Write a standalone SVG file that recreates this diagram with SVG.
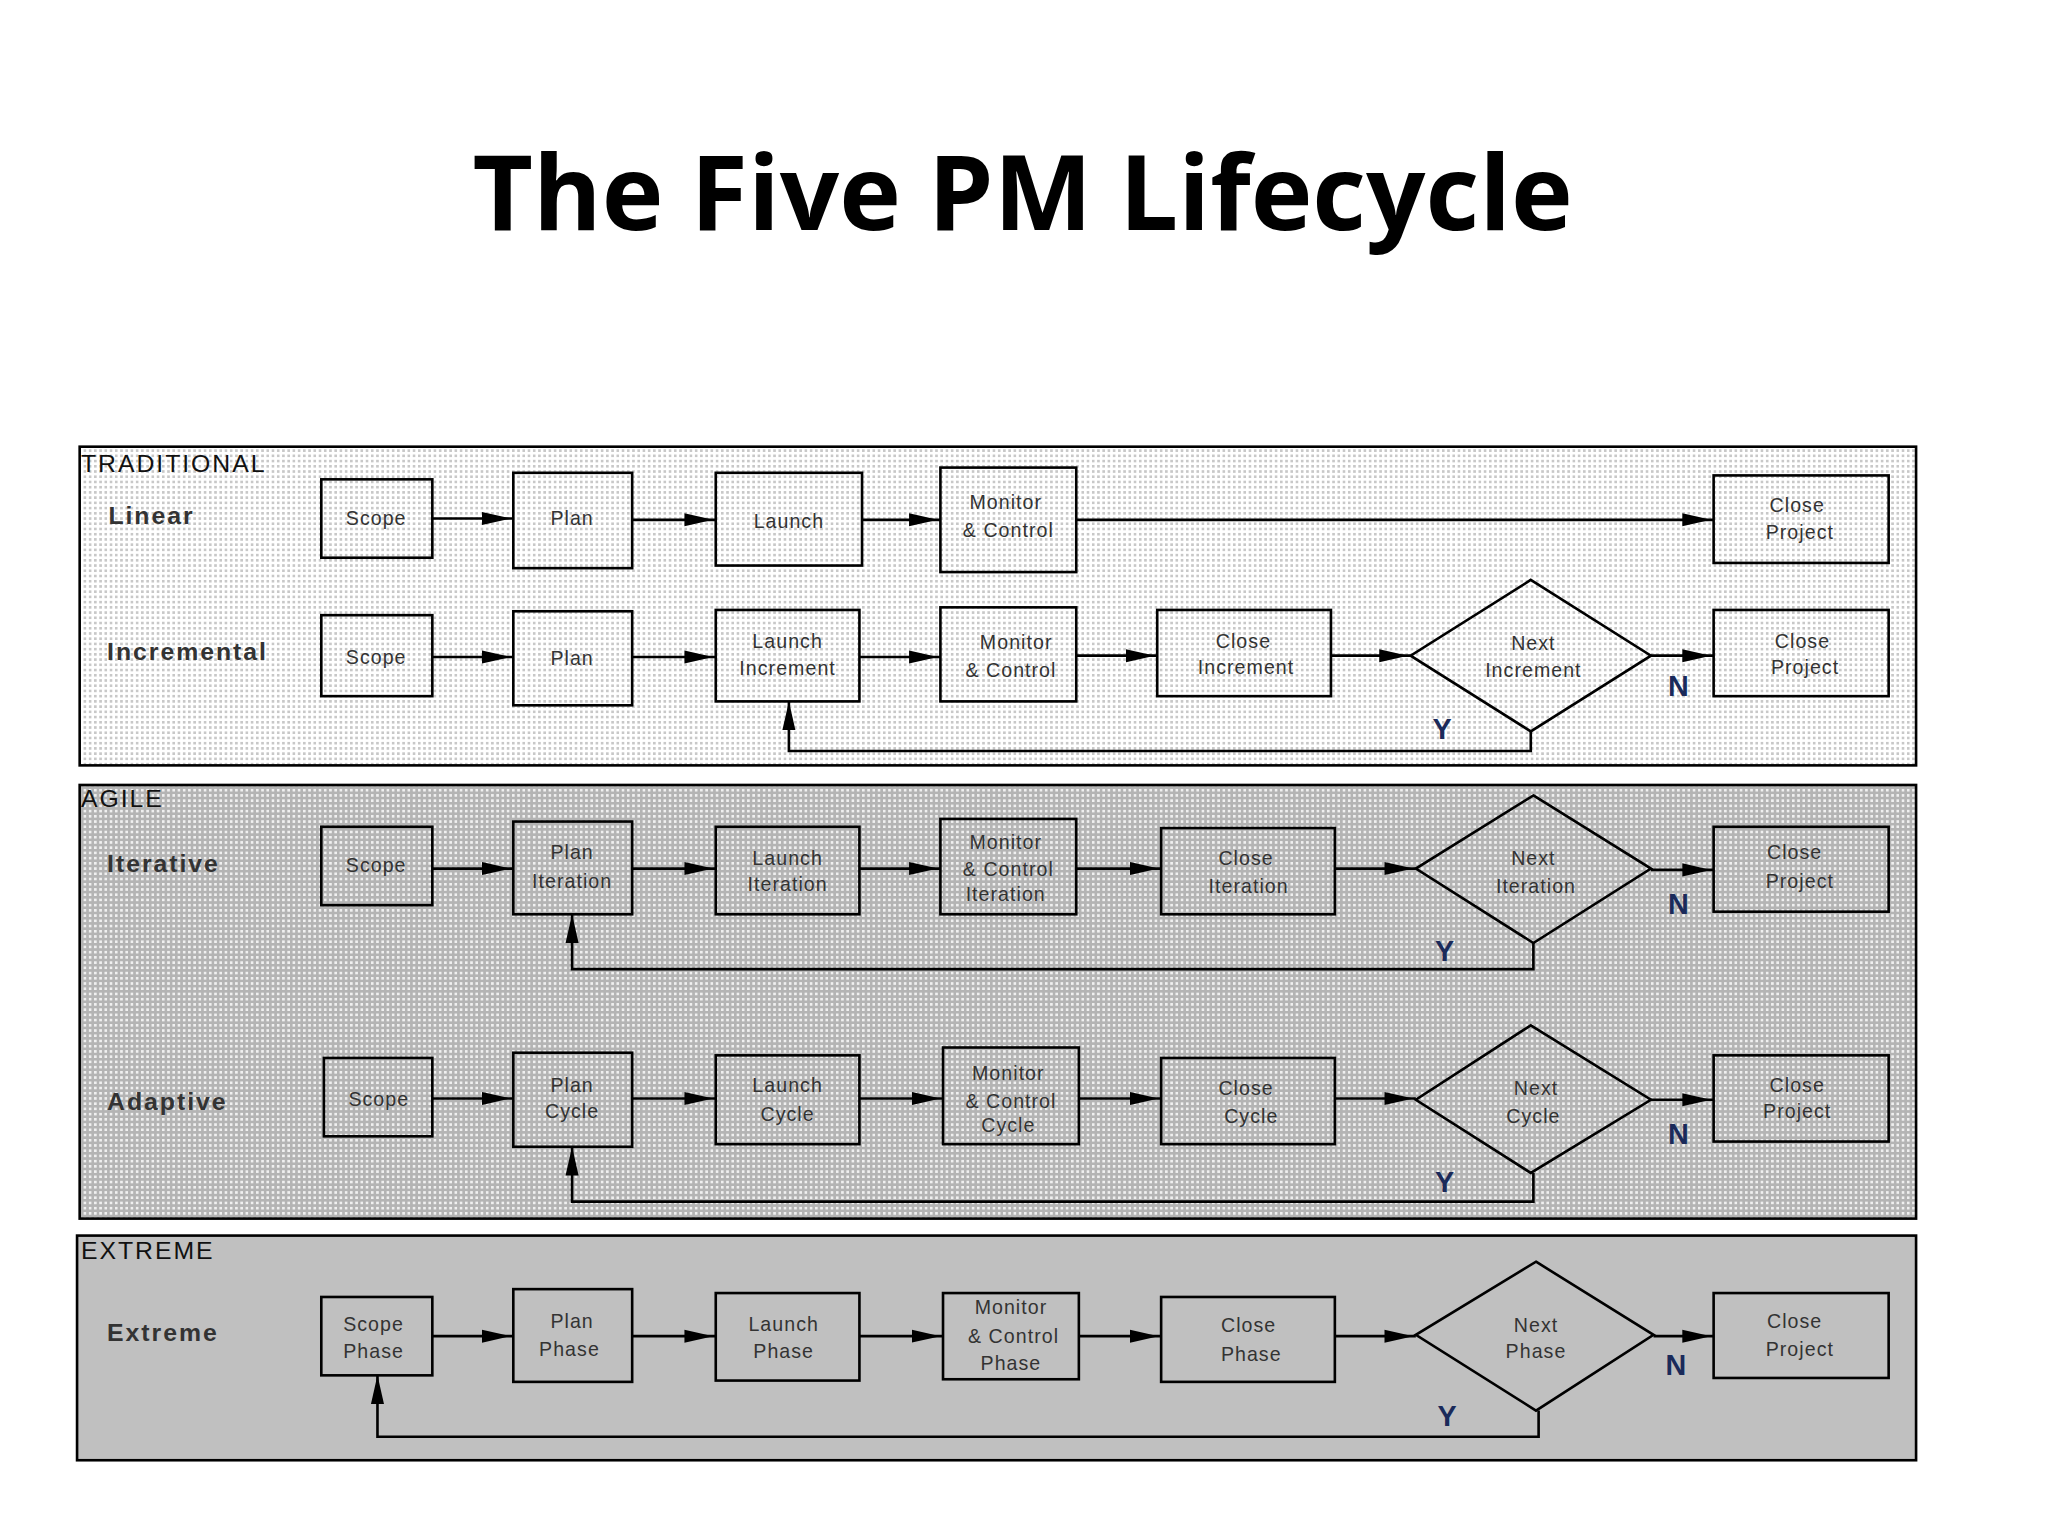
<svg xmlns="http://www.w3.org/2000/svg" width="2048" height="1536" viewBox="0 0 2048 1536">
<defs>
<pattern id="dotT" width="4" height="4" patternUnits="userSpaceOnUse"><rect width="4" height="4" fill="#ffffff"/><rect width="2" height="2" fill="#c8c8c8"/></pattern>
<pattern id="dotA" width="4" height="4" patternUnits="userSpaceOnUse"><rect width="4" height="4" fill="#b4b4b4"/><rect width="2" height="2" fill="#f0f0f0"/></pattern>
<marker id="ah" viewBox="0 0 26 12" refX="24" refY="6" markerWidth="26" markerHeight="12" markerUnits="userSpaceOnUse" orient="auto"><path d="M0,1 L22,6 L0,11 Z" fill="#000"/></marker>
<marker id="au" viewBox="0 0 12 22" refX="6" refY="0" markerWidth="12" markerHeight="22" markerUnits="userSpaceOnUse" orient="0"><path d="M1,22 L6,0 L11,22 Z" fill="#000"/></marker>
<style>
.box{fill:none;stroke:#000;stroke-width:2}
.t{font-family:"Liberation Sans",Arial,sans-serif;font-size:15px;fill:#333;text-anchor:middle;letter-spacing:0.8px}
.row{font-family:"Liberation Sans",Arial,sans-serif;font-size:19px;font-weight:bold;fill:#333;letter-spacing:1.5px}
.sec{font-family:"Liberation Sans",Arial,sans-serif;font-size:19px;fill:#111;letter-spacing:1.5px}
.yn{font-family:"Liberation Sans",Arial,sans-serif;font-size:22px;font-weight:bold;fill:#1a2a5a;text-anchor:middle}
.c{fill:none;stroke:#000;stroke-width:2}
</style>
</defs>
<rect width="2048" height="1536" fill="#fff"/>
<g transform="scale(1.30612)">
<text x="783" y="176" font-family="'Open Sans','Liberation Sans',sans-serif" font-weight="bold" font-size="80" text-anchor="middle" fill="#000">The Five PM Lifecycle</text>
<g id="panels">
<rect x="61" y="342" width="1406" height="244" fill="url(#dotT)" stroke="#000" stroke-width="2"/>
<rect x="61" y="601" width="1406" height="332" fill="url(#dotA)" stroke="#000" stroke-width="2"/>
<rect x="59" y="946" width="1408" height="172" fill="#c0c0c0" stroke="#000" stroke-width="2"/>
<text class="sec" x="62" y="361">TRADITIONAL</text>
<text class="sec" x="62" y="618">AGILE</text>
<text class="sec" x="62" y="964">EXTREME</text>
<text class="row" x="83" y="401" fill="#5a2020">Linear</text>
<text class="row" x="82" y="505">Incremental</text>
<text class="row" x="82" y="668">Iterative</text>
<text class="row" x="82" y="850">Adaptive</text>
<text class="row" x="82" y="1027">Extreme</text>
</g>
<g id="nodes">
<g id="l1"><rect class="box" x="246" y="367" width="85" height="60"/><text class="t" x="288" y="402">Scope</text></g>
<g id="l2"><rect class="box" x="393" y="362" width="91" height="73"/><text class="t" x="438" y="402">Plan</text></g>
<g id="l3"><rect class="box" x="548" y="362" width="112" height="71"/><text class="t" x="604" y="404">Launch</text></g>
<g id="l4"><rect class="box" x="720" y="358" width="104" height="80"/><text class="t" x="770" y="390">Monitor</text><text class="t" x="772" y="411">&amp; Control</text></g>
<g id="l5"><rect class="box" x="1312" y="364" width="134" height="67"/><text class="t" x="1376" y="392">Close</text><text class="t" x="1378" y="413">Project</text></g>
<g id="i1"><rect class="box" x="246" y="471" width="85" height="62"/><text class="t" x="288" y="508">Scope</text></g>
<g id="i2"><rect class="box" x="393" y="468" width="91" height="72"/><text class="t" x="438" y="509">Plan</text></g>
<g id="i3"><rect class="box" x="548" y="467" width="110" height="70"/><text class="t" x="603" y="496">Launch</text><text class="t" x="603" y="517">Increment</text></g>
<g id="i4"><rect class="box" x="720" y="465" width="104" height="72"/><text class="t" x="778" y="497">Monitor</text><text class="t" x="774" y="518">&amp; Control</text></g>
<g id="i5"><rect class="box" x="886" y="467" width="133" height="66"/><text class="t" x="952" y="496">Close</text><text class="t" x="954" y="516">Increment</text></g>
<g id="i6"><polygon class="box" points="1172,444 1264,502 1172,560 1080,502"/><text class="t" x="1174" y="498">Next</text><text class="t" x="1174" y="518">Increment</text></g>
<g id="i7"><rect class="box" x="1312" y="467" width="134" height="66"/><text class="t" x="1380" y="496">Close</text><text class="t" x="1382" y="516">Project</text></g>
<g id="r1"><rect class="box" x="246" y="633" width="85" height="60"/><text class="t" x="288" y="668">Scope</text></g>
<g id="r2"><rect class="box" x="393" y="629" width="91" height="71"/><text class="t" x="438" y="658">Plan</text><text class="t" x="438" y="680">Iteration</text></g>
<g id="r3"><rect class="box" x="548" y="633" width="110" height="67"/><text class="t" x="603" y="662">Launch</text><text class="t" x="603" y="682">Iteration</text></g>
<g id="r4"><rect class="box" x="720" y="627" width="104" height="73"/><text class="t" x="770" y="650">Monitor</text><text class="t" x="772" y="671">&amp; Control</text><text class="t" x="770" y="690">Iteration</text></g>
<g id="r5"><rect class="box" x="889" y="634" width="133" height="66"/><text class="t" x="954" y="662">Close</text><text class="t" x="956" y="684">Iteration</text></g>
<g id="r6"><polygon class="box" points="1174,609 1264,665 1174,722 1084,665"/><text class="t" x="1174" y="662">Next</text><text class="t" x="1176" y="684">Iteration</text></g>
<g id="r7"><rect class="box" x="1312" y="633" width="134" height="65"/><text class="t" x="1374" y="658">Close</text><text class="t" x="1378" y="680">Project</text></g>
<g id="a1"><rect class="box" x="248" y="810" width="83" height="60"/><text class="t" x="290" y="847">Scope</text></g>
<g id="a2"><rect class="box" x="393" y="806" width="91" height="72"/><text class="t" x="438" y="836">Plan</text><text class="t" x="438" y="856">Cycle</text></g>
<g id="a3"><rect class="box" x="548" y="808" width="110" height="68"/><text class="t" x="603" y="836">Launch</text><text class="t" x="603" y="858">Cycle</text></g>
<g id="a4"><rect class="box" x="722" y="802" width="104" height="74"/><text class="t" x="772" y="827">Monitor</text><text class="t" x="774" y="848">&amp; Control</text><text class="t" x="772" y="867">Cycle</text></g>
<g id="a5"><rect class="box" x="889" y="810" width="133" height="66"/><text class="t" x="954" y="838">Close</text><text class="t" x="958" y="860">Cycle</text></g>
<g id="a6"><polygon class="box" points="1172,785 1264,842 1172,898 1084,842"/><text class="t" x="1176" y="838">Next</text><text class="t" x="1174" y="860">Cycle</text></g>
<g id="a7"><rect class="box" x="1312" y="808" width="134" height="66"/><text class="t" x="1376" y="836">Close</text><text class="t" x="1376" y="856">Project</text></g>
<g id="e1"><rect class="box" x="246" y="993" width="85" height="60"/><text class="t" x="286" y="1019">Scope</text><text class="t" x="286" y="1040">Phase</text></g>
<g id="e2"><rect class="box" x="393" y="987" width="91" height="71"/><text class="t" x="438" y="1017">Plan</text><text class="t" x="436" y="1038">Phase</text></g>
<g id="e3"><rect class="box" x="548" y="990" width="110" height="67"/><text class="t" x="600" y="1019">Launch</text><text class="t" x="600" y="1040">Phase</text></g>
<g id="e4"><rect class="box" x="722" y="990" width="104" height="66"/><text class="t" x="774" y="1006">Monitor</text><text class="t" x="776" y="1028">&amp; Control</text><text class="t" x="774" y="1049">Phase</text></g>
<g id="e5"><rect class="box" x="889" y="993" width="133" height="65"/><text class="t" x="956" y="1020">Close</text><text class="t" x="958" y="1042">Phase</text></g>
<g id="e6"><polygon class="box" points="1176,966 1266,1022 1176,1080 1084,1022"/><text class="t" x="1176" y="1020">Next</text><text class="t" x="1176" y="1040">Phase</text></g>
<g id="e7"><rect class="box" x="1312" y="990" width="134" height="65"/><text class="t" x="1374" y="1017">Close</text><text class="t" x="1378" y="1038">Project</text></g>
</g>
<g id="connectors">
<line class="c" x1="331" y1="397" x2="393" y2="397" marker-end="url(#ah)"/>
<line class="c" x1="484" y1="398" x2="548" y2="398" marker-end="url(#ah)"/>
<line class="c" x1="660" y1="398" x2="720" y2="398" marker-end="url(#ah)"/>
<line class="c" x1="824" y1="398" x2="1312" y2="398" marker-end="url(#ah)"/>
<line class="c" x1="331" y1="503" x2="393" y2="503" marker-end="url(#ah)"/>
<line class="c" x1="484" y1="503" x2="548" y2="503" marker-end="url(#ah)"/>
<line class="c" x1="658" y1="503" x2="720" y2="503" marker-end="url(#ah)"/>
<line class="c" x1="824" y1="502" x2="886" y2="502" marker-end="url(#ah)"/>
<line class="c" x1="1019" y1="502" x2="1080" y2="502" marker-end="url(#ah)"/>
<line class="c" x1="1264" y1="502" x2="1312" y2="502" marker-end="url(#ah)"/>
<polyline class="c" points="1172,560 1172,575 604,575 604,537" marker-end="url(#au)"/>
<line class="c" x1="331" y1="665" x2="393" y2="665" marker-end="url(#ah)"/>
<line class="c" x1="484" y1="665" x2="548" y2="665" marker-end="url(#ah)"/>
<line class="c" x1="658" y1="665" x2="720" y2="665" marker-end="url(#ah)"/>
<line class="c" x1="824" y1="665" x2="889" y2="665" marker-end="url(#ah)"/>
<line class="c" x1="1022" y1="665" x2="1084" y2="665" marker-end="url(#ah)"/>
<line class="c" x1="1264" y1="666" x2="1312" y2="666" marker-end="url(#ah)"/>
<polyline class="c" points="1174,722 1174,742 438,742 438,700" marker-end="url(#au)"/>
<line class="c" x1="331" y1="841" x2="393" y2="841" marker-end="url(#ah)"/>
<line class="c" x1="484" y1="841" x2="548" y2="841" marker-end="url(#ah)"/>
<line class="c" x1="658" y1="841" x2="722" y2="841" marker-end="url(#ah)"/>
<line class="c" x1="826" y1="841" x2="889" y2="841" marker-end="url(#ah)"/>
<line class="c" x1="1022" y1="841" x2="1084" y2="841" marker-end="url(#ah)"/>
<line class="c" x1="1264" y1="842" x2="1312" y2="842" marker-end="url(#ah)"/>
<polyline class="c" points="1174,898 1174,920 438,920 438,878" marker-end="url(#au)"/>
<line class="c" x1="331" y1="1023" x2="393" y2="1023" marker-end="url(#ah)"/>
<line class="c" x1="484" y1="1023" x2="548" y2="1023" marker-end="url(#ah)"/>
<line class="c" x1="658" y1="1023" x2="722" y2="1023" marker-end="url(#ah)"/>
<line class="c" x1="826" y1="1023" x2="889" y2="1023" marker-end="url(#ah)"/>
<line class="c" x1="1022" y1="1023" x2="1084" y2="1023" marker-end="url(#ah)"/>
<line class="c" x1="1266" y1="1023" x2="1312" y2="1023" marker-end="url(#ah)"/>
<polyline class="c" points="1178,1080 1178,1100 289,1100 289,1053" marker-end="url(#au)"/>
<text class="yn" x="1285" y="533">N</text><text class="yn" x="1104" y="566">Y</text>
<text class="yn" x="1285" y="700">N</text><text class="yn" x="1106" y="736">Y</text>
<text class="yn" x="1285" y="876">N</text><text class="yn" x="1106" y="913">Y</text>
<text class="yn" x="1283" y="1053">N</text><text class="yn" x="1108" y="1092">Y</text>
</g>
</g>
</svg>
